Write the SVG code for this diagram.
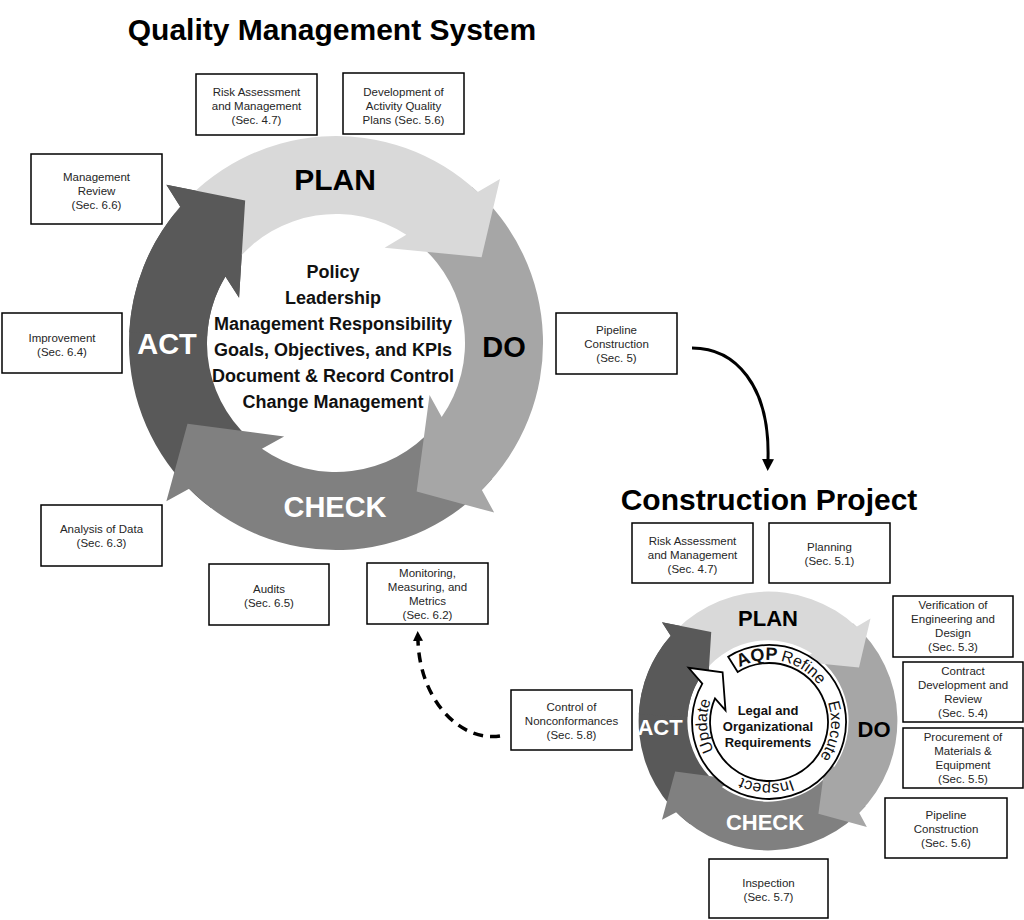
<svg xmlns="http://www.w3.org/2000/svg" width="1024" height="920" viewBox="0 0 1024 920">
<style>
text{font-family:"Liberation Sans",Arial,sans-serif}
.plan{fill:#d9d9d9}.do{fill:#a6a6a6}.check{fill:#808080}.act{fill:#595959}
.lbl{font-weight:bold;text-anchor:middle}
.title{font-size:30px;font-weight:bold;text-anchor:middle;fill:#000}
.core{font-size:18px;font-weight:bold;text-anchor:middle;fill:#111}
.box rect{fill:#fff;stroke:#000;stroke-width:1.5}
.box text{font-size:11.5px;text-anchor:middle;fill:#262626}
.ring{font-size:16px;fill:#111}
</style>
<defs>
<path id="arr" d="M 175.1 212.7 A 207 207 0 0 1 477.7 192.1 L 500 179 L 481.6 257.2 L 384.6 247.7 L 406.3 234.8 A 129 129 0 0 0 235.8 261.8 Z"/>
<path id="arrHead" d="M 354 136.8 A 207 207 0 0 1 477.7 192.1 L 500 179 L 481.6 257.2 L 384.6 247.7 L 406.3 234.8 A 129 129 0 0 0 347.2 214.5 Z"/>
<path id="ringPath" d="M 769 660 A 62 62 0 1 1 769 784 A 62 62 0 1 1 769 660 A 62 62 0 1 1 769 784 A 62 62 0 1 1 769 660"/>
<marker id="ahSolid" markerWidth="12" markerHeight="12" refX="0" refY="6" orient="auto" markerUnits="userSpaceOnUse"><path d="M0,0 L12,6 L0,12 Z" fill="#000"/></marker>
<marker id="ahDash" markerWidth="10" markerHeight="10" refX="0" refY="5" orient="auto" markerUnits="userSpaceOnUse"><path d="M0,0 L10,5 L0,10 Z" fill="#000"/></marker>
</defs>
<rect width="1024" height="920" fill="#fff"/>

<text class="title" x="332" y="40">Quality Management System</text>
<text class="title" x="769" y="510">Construction Project</text>

<g id="qms-cycle">
<use href="#arr" class="act" transform="rotate(268 336 343)"/>
<use href="#arr" class="check" transform="rotate(182 336 343)"/>
<use href="#arr" class="do" transform="rotate(92 336 343)"/>
<use href="#arr" class="plan"/>
<use href="#arrHead" class="act" transform="rotate(268 336 343)"/>
<text class="lbl" x="335" y="190" font-size="30" fill="#000">PLAN</text>
<text class="lbl" x="504" y="357" font-size="29" fill="#000">DO</text>
<text class="lbl" x="335" y="517" font-size="29" fill="#fff">CHECK</text>
<text class="lbl" x="167" y="354" font-size="29" fill="#fff">ACT</text>
<text class="core" x="333" y="278">Policy</text>
<text class="core" x="333" y="304">Leadership</text>
<text class="core" x="333" y="330">Management Responsibility</text>
<text class="core" x="333" y="356">Goals, Objectives, and KPIs</text>
<text class="core" x="333" y="382">Document &amp; Record Control</text>
<text class="core" x="333" y="408">Change Management</text>
</g>

<g id="cp-cycle">
<g transform="translate(768 721) scale(0.625) translate(-336 -343)">
<use href="#arr" class="act" transform="rotate(268 336 343)"/>
<use href="#arr" class="check" transform="rotate(182 336 343)"/>
<use href="#arr" class="do" transform="rotate(92 336 343)"/>
<use href="#arr" class="plan"/>
<use href="#arrHead" class="act" transform="rotate(268 336 343)"/>
</g>
<text class="lbl" x="768" y="626" font-size="22" fill="#000">PLAN</text>
<text class="lbl" x="874" y="737" font-size="22" fill="#000">DO</text>
<text class="lbl" x="765" y="830" font-size="22" fill="#fff">CHECK</text>
<text class="lbl" x="660" y="735" font-size="22" fill="#fff">ACT</text>
</g>

<g id="aqp-ring">
<path d="M 728.2 656.7 A 77 77 0 1 1 702.3 683.6 L 688.6 667.8 L 722.6 672.3 L 725.5 710.4 L 715 698.3 A 59 59 0 1 0 737.7 672 Z" fill="#fff" stroke="#000" stroke-width="1.8" stroke-linejoin="miter"/>
<text font-size="18" font-weight="bold" fill="#111" style="font-family:'Liberation Sans',Arial,sans-serif"><textPath href="#ringPath" startOffset="377.7" text-anchor="middle">AQP</textPath></text>
<text class="ring"><textPath href="#ringPath" startOffset="34.6" text-anchor="middle">Refine</textPath></text>
<text class="ring"><textPath href="#ringPath" startOffset="106.1" text-anchor="middle">Execute</textPath></text>
<text class="ring"><textPath href="#ringPath" startOffset="196.9" text-anchor="middle">Inspect</textPath></text>
<text class="ring"><textPath href="#ringPath" startOffset="287.9" text-anchor="middle">Update</textPath></text>
<text x="768" y="715" font-size="13" font-weight="bold" text-anchor="middle" fill="#111">Legal and</text>
<text x="768" y="731" font-size="13" font-weight="bold" text-anchor="middle" fill="#111">Organizational</text>
<text x="768" y="747" font-size="13" font-weight="bold" text-anchor="middle" fill="#111">Requirements</text>
</g>

<g id="connectors" fill="none" stroke="#000">
<path d="M 692 348 C 735 348 770 385 768 459" stroke-width="3" marker-end="url(#ahSolid)"/>
<path d="M 500 736 C 460 742 420 700 418 641" stroke-width="3.5" stroke-dasharray="10 7" marker-end="url(#ahDash)"/>
</g>

<g id="box-qms-risk" class="box"><rect x="196" y="74" width="121" height="61"/><text x="256.5" y="96">Risk Assessment</text><text x="256.5" y="110">and Management</text><text x="256.5" y="124">(Sec. 4.7)</text></g>
<g id="box-qms-plans" class="box"><rect x="343" y="73" width="121" height="61"/><text x="403.5" y="96">Development of</text><text x="403.5" y="110">Activity Quality</text><text x="403.5" y="124">Plans (Sec. 5.6)</text></g>
<g id="box-mgmt-review" class="box"><rect x="31" y="154" width="131" height="70"/><text x="96.5" y="181">Management</text><text x="96.5" y="195">Review</text><text x="96.5" y="209">(Sec. 6.6)</text></g>
<g id="box-improvement" class="box"><rect x="2" y="313" width="120" height="60"/><text x="62" y="342">Improvement</text><text x="62" y="356">(Sec. 6.4)</text></g>
<g id="box-analysis" class="box"><rect x="41" y="505" width="121" height="61"/><text x="101.5" y="533">Analysis of Data</text><text x="101.5" y="547">(Sec. 6.3)</text></g>
<g id="box-audits" class="box"><rect x="209" y="564" width="120" height="61"/><text x="269" y="593">Audits</text><text x="269" y="607">(Sec. 6.5)</text></g>
<g id="box-monitoring" class="box"><rect x="367" y="563" width="121" height="61"/><text x="427.5" y="577">Monitoring,</text><text x="427.5" y="591">Measuring, and</text><text x="427.5" y="605">Metrics</text><text x="427.5" y="619">(Sec. 6.2)</text></g>
<g id="box-pipeline-5" class="box"><rect x="556" y="313" width="121" height="61"/><text x="616.5" y="334">Pipeline</text><text x="616.5" y="348">Construction</text><text x="616.5" y="362">(Sec. 5)</text></g>
<g id="box-nonconf" class="box"><rect x="511" y="690" width="121" height="60"/><text x="571.5" y="711">Control of</text><text x="571.5" y="725">Nonconformances</text><text x="571.5" y="739">(Sec. 5.8)</text></g>
<g id="box-cp-risk" class="box"><rect x="632" y="523" width="121" height="60"/><text x="692.5" y="545">Risk Assessment</text><text x="692.5" y="559">and Management</text><text x="692.5" y="573">(Sec. 4.7)</text></g>
<g id="box-planning" class="box"><rect x="769" y="523" width="121" height="60"/><text x="829.5" y="551">Planning</text><text x="829.5" y="565">(Sec. 5.1)</text></g>
<g id="box-verification" class="box"><rect x="893" y="596" width="120" height="61"/><text x="953" y="609">Verification of</text><text x="953" y="623">Engineering and</text><text x="953" y="637">Design</text><text x="953" y="651">(Sec. 5.3)</text></g>
<g id="box-contract" class="box"><rect x="903" y="662" width="120" height="60"/><text x="963" y="675">Contract</text><text x="963" y="689">Development and</text><text x="963" y="703">Review</text><text x="963" y="717">(Sec. 5.4)</text></g>
<g id="box-procurement" class="box"><rect x="903" y="728" width="120" height="60"/><text x="963" y="741">Procurement of</text><text x="963" y="755">Materials &amp;</text><text x="963" y="769">Equipment</text><text x="963" y="783">(Sec. 5.5)</text></g>
<g id="box-pipeline-56" class="box"><rect x="885" y="798" width="122" height="60"/><text x="946" y="819">Pipeline</text><text x="946" y="833">Construction</text><text x="946" y="847">(Sec. 5.6)</text></g>
<g id="box-inspection" class="box"><rect x="709" y="859" width="119" height="59"/><text x="768.5" y="887">Inspection</text><text x="768.5" y="901">(Sec. 5.7)</text></g>
</svg>
